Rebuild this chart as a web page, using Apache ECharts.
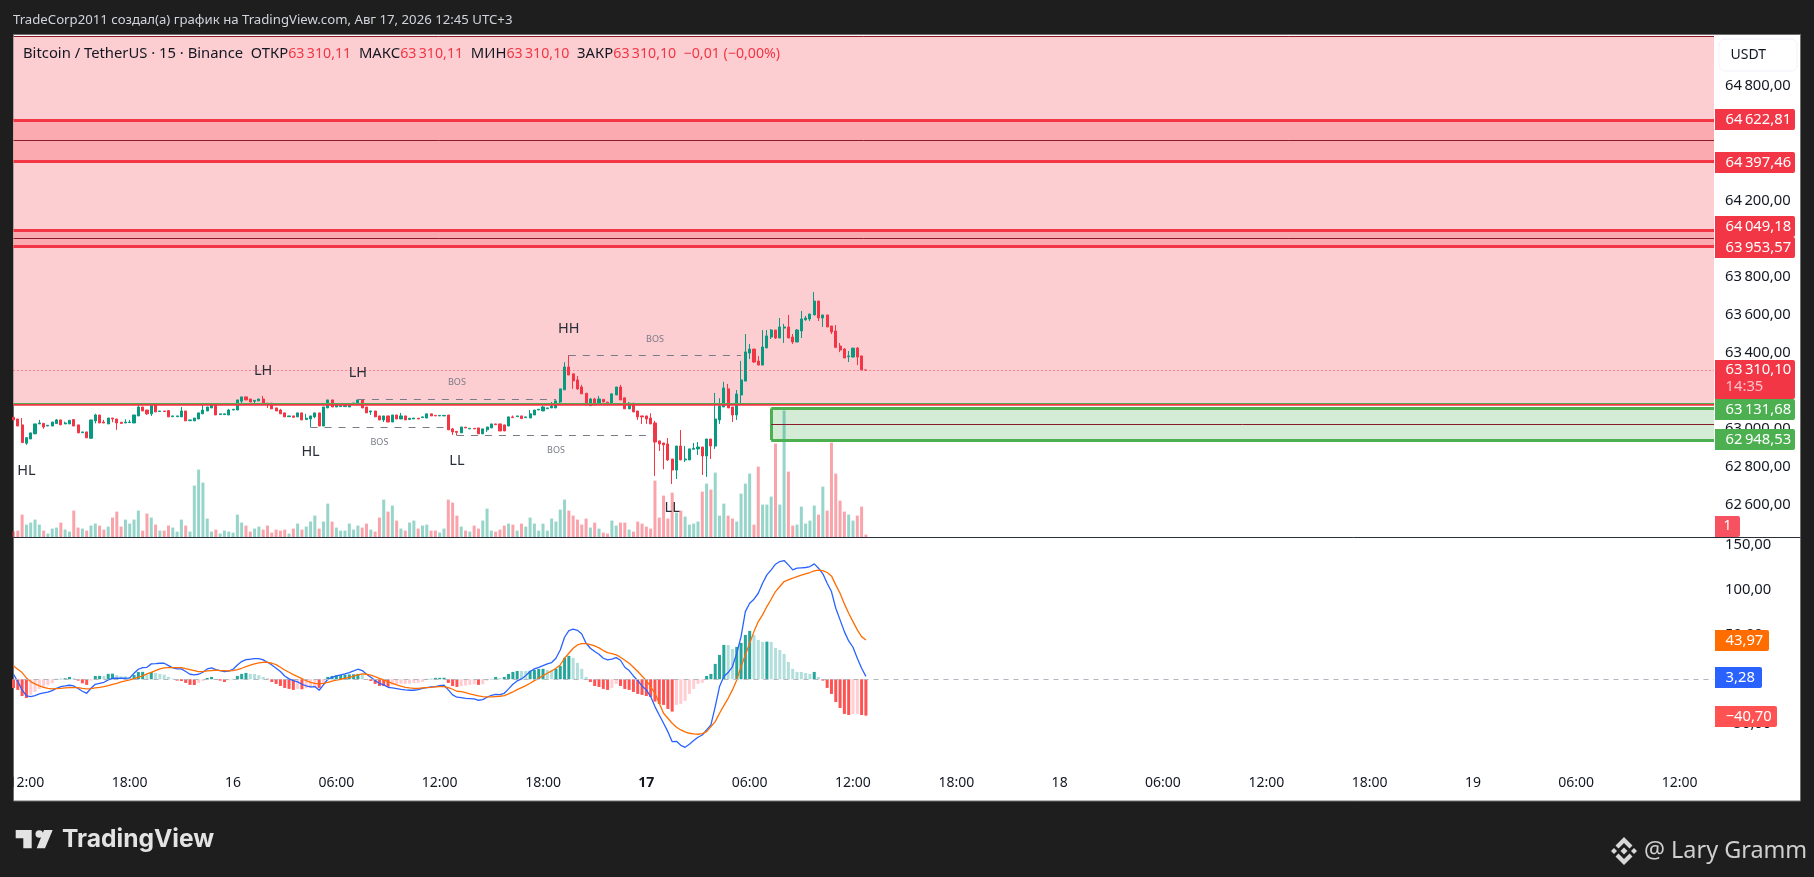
<!DOCTYPE html>
<html><head><meta charset="utf-8">
<script src="https://cdn.jsdelivr.net/npm/echarts@6/dist/echarts.min.js"></script>
<style>html,body{margin:0;padding:0;background:#1e1e1e}#c{width:1814px;height:877px}</style>
</head><body><div id="c"></div>
<script>
const opens=[
63062,63053,63022,62926,62948,62975,63027,63030,63016,63016,
63029,63048,63027,63027,63050,63022,62981,62985,62952,63043,
63074,63037,63027,63058,63053,63036,63032,63034,63032,63069,
63116,63100,63080,63127,63092,63095,63097,63065,63065,63064,
63095,63044,63043,63053,63080,63095,63111,63127,63076,63076,
63074,63100,63100,63146,63169,63158,63146,63148,63158,63136,
63136,63111,63100,63085,63065,63069,63064,63085,63050,63053,
63064,63085,63016,63111,63153,63116,63118,63118,63116,63132,
63132,63153,63116,63090,63095,63069,63048,63069,63037,63074,
63053,63069,63050,63053,63057,63060,63058,63080,63072,63069,
63069,63074,63001,62988,62980,63010,63001,63004,63006,62975,
62996,63006,63027,63027,63022,63016,63064,63065,63069,63060,
63058,63074,63100,63095,63107,63111,63111,63142,63206,63326,
63290,63258,63221,63188,63123,63158,63136,63156,63142,63137,
63179,63221,63164,63106,63136,63095,63069,63069,63058,63032,
62938,62927,62922,62843,62785,62911,62838,62838,62894,62896,
62906,62859,62948,62911,63048,63116,63211,63116,63074,63179,
63252,63399,63420,63357,63336,63426,63483,63520,63478,63530,
63536,63483,63457,63515,63574,63578,63599,63672,63583,63599,
63541,63515,63436,63420,63380,63378,63425,63384,63310.11];
const closes=[
63048,63016,62929,62955,62980,63027,63032,63011,63020,63037,
63048,63022,63032,63046,63016,62980,62985,62954,63048,63074,
63032,63032,63058,63053,63032,63030,63037,63037,63074,63116,
63095,63080,63123,63090,63095,63092,63064,63069,63069,63095,
63043,63048,63058,63085,63100,63116,63127,63074,63080,63080,
63100,63104,63153,63169,63153,63142,63151,63158,63136,63132,
63106,63095,63080,63064,63069,63062,63085,63048,63057,63069,
63085,63016,63116,63153,63116,63127,63123,63123,63132,63137,
63153,63111,63085,63095,63064,63048,63069,63037,63074,63053,
63069,63048,63057,63058,63053,63064,63080,63069,63069,63072,
63072,62996,62985,62983,63011,63006,63004,63001,62975,63001,
63011,63027,63023,62990,62990,63064,63060,63069,63055,63064,
63080,63100,63104,63116,63111,63121,63148,63211,63326,63284,
63253,63211,63185,63127,63158,63127,63158,63142,63139,63185,
63221,63153,63106,63136,63090,63064,63064,63053,63027,62932,
62922,62917,62838,62785,62911,62838,62843,62896,62899,62906,
62859,62948,62911,63053,63121,63216,63111,63074,63184,63258,
63405,63420,63352,63336,63431,63489,63520,63478,63536,63536,
63478,63457,63520,63578,63583,63604,63672,63583,63599,63536,
63510,63429,63415,63373,63384,63425,63378,63311,63310.10];
const lows=[
63048,63016,62929,62917,62948,62975,63027,63002,63016,63016,
63029,63022,63027,63027,63016,62980,62981,62954,62948,63030,
63032,63032,63027,63036,62996,63027,63032,63034,63032,63069,
63095,63074,63069,63090,63092,63092,63064,63065,63065,63064,
63043,63044,63043,63053,63080,63095,63111,63074,63076,63076,
63074,63100,63100,63136,63153,63142,63136,63148,63136,63111,
63106,63095,63080,63064,63065,63062,63064,63048,63050,63009,
63057,63016,63016,63111,63116,63116,63118,63118,63116,63132,
63132,63111,63085,63074,63064,63048,63037,63037,63037,63053,
63053,63048,63050,63053,63053,63060,63058,63069,63069,63069,
63069,62996,62969,62966,62980,63006,63001,63001,62975,62975,
62985,63006,63023,62990,62990,63016,63060,63065,63055,63060,
63058,63074,63100,63095,63107,63111,63111,63136,63206,63284,
63211,63206,63185,63127,63123,63127,63136,63142,63139,63137,
63179,63153,63106,63106,63090,63048,63027,63027,63027,62754,
62885,62789,62833,62712,62738,62838,62827,62838,62894,62864,
62759,62749,62843,62896,63027,63116,63111,63037,63048,63136,
63252,63368,63347,63336,63336,63426,63473,63473,63478,63452,
63478,63447,63457,63478,63569,63567,63599,63567,63536,63536,
63499,63425,63404,63373,63352,63378,63336,63311,63310.10];
const highs=[
63062,63053,63058,62955,62980,63027,63048,63030,63020,63037,
63053,63048,63039,63046,63051,63022,62985,62985,63048,63080,
63074,63048,63058,63058,63053,63036,63051,63048,63074,63125,
63116,63100,63123,63127,63095,63095,63097,63069,63069,63116,
63095,63048,63058,63085,63127,63116,63127,63127,63080,63080,
63106,63104,63153,63169,63169,63158,63151,63158,63174,63136,
63136,63111,63106,63085,63069,63069,63085,63085,63080,63069,
63085,63085,63116,63153,63153,63127,63123,63123,63132,63137,
63153,63153,63116,63095,63095,63069,63069,63069,63074,63074,
63085,63069,63057,63058,63057,63064,63080,63080,63072,63072,
63072,63074,63006,62988,63011,63010,63004,63004,63006,63001,
63011,63027,63027,63027,63022,63064,63071,63069,63069,63064,
63100,63100,63104,63121,63111,63142,63148,63211,63351,63388,
63290,63279,63232,63188,63164,63164,63174,63156,63142,63185,
63221,63232,63164,63142,63136,63095,63069,63069,63083,63043,
62938,62927,62953,62843,62911,62995,62911,62896,62927,62932,
62906,62948,62948,63190,63162,63248,63237,63116,63205,63358,
63499,63447,63420,63384,63520,63520,63525,63520,63583,63552,
63599,63499,63525,63620,63594,63604,63720,63672,63599,63599,
63541,63546,63452,63425,63410,63425,63431,63384,63310.11];
const volumes=[
2.8,3.2,11.2,6.2,7.2,8.7,6.2,3.2,1.7,4.2,
4.7,7.2,3.7,2.7,13.2,4.7,4.2,3.2,5.7,6.7,
5.7,3.7,5.2,9.7,12.7,5.2,8.7,6.7,8.7,13.2,
3.2,11.7,9.7,6.2,3.2,3.2,5.7,4.7,2.7,8.7,
5.7,2.7,25.7,33.7,27.2,9.2,2.7,3.7,1.7,3.2,
2.7,2.2,11.2,7.2,5.7,2.7,4.2,5.2,3.7,5.7,
2.2,3.7,3.2,3.7,1.7,4.2,6.7,3.7,5.2,7.7,
10.7,4.2,7.7,16.7,7.7,4.7,3.2,3.2,6.7,3.7,
5.7,4.7,6.7,3.7,2.7,9.7,18.7,12.7,15.7,8.2,
4.2,3.2,7.2,8.2,4.2,5.7,6.2,3.2,3.2,2.2,
4.2,18.7,17.2,10.7,5.2,3.2,2.7,5.7,4.2,8.2,
14.2,3.2,2.7,3.7,5.7,6.7,6.2,3.2,6.7,5.2,
9.7,6.7,3.2,6.7,3.2,9.2,7.7,13.7,18.7,13.2,
10.7,8.7,6.2,9.2,4.7,7.2,4.2,2.2,1.7,8.2,
5.7,7.2,7.2,3.7,2.7,7.7,6.7,5.2,4.2,28.2,
9.7,20.7,9.2,22.2,12.2,13.2,10.2,6.2,6.7,7.7,
22.7,26.7,23.7,32.2,10.7,16.7,10.7,9.2,7.7,21.7,
26.7,31.7,6.2,35.2,16.2,16.2,20.2,46.7,16.2,63.3,
32.7,5.7,6.2,15.2,6.7,8.2,15.7,11.2,25.2,13.2,
47.2,31.7,18.2,12.7,11.2,8.2,10.7,15.2,1.2];
const macdLine=[
5.6,-2.6,-11.9,-18.7,-19.4,-18.3,-16.4,-15.3,-14.5,-12.7,
-10.1,-8.2,-7.5,-6.7,-7.5,-10.4,-13.4,-15.7,-10.1,-5.6,
-4.5,-3.4,-0.7,1.1,1.1,1.1,1.1,1.5,6.7,11.2,
13.1,13.4,17.2,17.5,17.9,17.9,15.3,12.7,11.6,11.6,
8.6,5.6,4.8,5.6,7.8,11.6,12.7,10.8,9.7,8.6,
9,11.2,16,19.8,22,22.4,23.1,23.1,21.6,19,
16,12.3,8.6,3.7,0.4,-1.5,-3,-5.6,-7.5,-8.6,
-8.2,-12.3,-6.3,0,2.2,3.7,4.8,6,7.5,9.3,
11.2,9.7,5.6,2.2,-1.5,-4.5,-6.3,-9,-9.7,-10.4,
-11.2,-11.9,-12.3,-12.3,-11.6,-10.1,-9.3,-8.6,-8.2,-7.1,
-6.7,-11.9,-17.5,-20.1,-20.5,-21.3,-21.6,-22,-23.5,-22.8,
-20.1,-17.9,-16.8,-17.2,-15.7,-10.8,-5.6,-1.9,0.4,4.1,
8.6,11.6,13.4,15.3,17.2,18.7,23.5,32.8,47,54.5,
56,54.8,50.7,40.3,34.7,31,28,23.5,21.6,22.4,
24.2,21.3,13.4,9.7,3.7,-1.5,-7.5,-11.9,-19.4,-30.6,
-39.9,-49.2,-58.6,-69.8,-69.4,-73.9,-76.1,-72.7,-68.6,-64.9,
-62.3,-56.7,-51.1,-30.6,-8.2,3,7.5,14.2,29.1,47.7,
75.7,85,89.5,96.2,107.4,116.7,122.3,128.7,131.7,132.8,
127.9,122.3,124.2,124.6,125,126.1,129.1,124.2,117.9,107.4,
98.1,79.4,66.4,53.3,42.9,35.8,23.5,12.3,3.28];
const signalLine=[
14.9,11.2,7.5,1.5,-2.6,-5.2,-7.5,-9,-10.1,-10.8,
-10.4,-10.1,-9.7,-9.3,-9.3,-9.3,-10.1,-10.8,-10.4,-9.7,
-9,-8.2,-7.1,-5.6,-4.5,-3,-1.9,-0.7,0.7,2.2,
3.7,6,7.8,9.7,11.6,12.7,13.1,13.1,13.1,13.1,
11.9,10.8,9.7,8.6,8.6,9.3,9.7,10.1,9.7,9.7,
9.3,9.7,10.8,12.3,14.2,15.7,17.2,18.3,19,19,
17.9,16.4,13.4,10.4,7.8,5.2,3,0.7,-1.5,-3.4,
-4.5,-5.2,-4.5,-3.4,-2.2,-1.1,0,1.1,2.2,3.4,
4.8,6,5.6,4.5,3,1.1,-0.7,-2.6,-4.5,-6.3,
-7.8,-9,-9.7,-10.1,-10.1,-9.7,-9.3,-9,-8.6,-8.2,
-8.2,-9.3,-11.2,-13.4,-13.8,-14.9,-16.4,-17.5,-18.7,-19.4,
-19.8,-19.8,-19.4,-19,-18.3,-16.4,-14.2,-11.6,-9.3,-7.1,
-4.5,-1.5,1.1,4.1,6.7,9.3,12.3,16,23.5,29.1,
34.7,38.4,39.9,39.9,38.8,37.3,35.1,32.1,29.8,28.7,
27.2,24.6,21.3,17.9,13.4,8.6,3.7,-1.5,-8.2,-15.7,
-26.9,-38,-43.6,-49.2,-53.7,-56.7,-58.9,-60.4,-61.2,-61.5,
-60.8,-58.6,-53,-47.4,-38,-29.5,-21.3,-11.9,-0.7,14.2,
27.2,40.3,53.3,64.5,72,81.3,89.5,98.1,103.7,109.3,
111.2,113,114.9,116.4,117.9,119.4,121.2,122,121.6,119.4,
115.6,105.6,96.2,84.3,73.9,64.5,55.2,47.7,43.97];
const histogram=[
-9.7,-11.9,-18.7,-20.9,-17.5,-14.2,-10.8,-9,-6.7,-4.5,
0.4,0.5,1.1,2.6,1.1,-1.5,-4.5,-6.3,-1.5,3.7,
3.8,3.7,6,6.3,4.5,3.4,3.3,2.6,4.8,8.2,
8.3,5.6,8.2,7.1,6,5.2,2.6,0.7,-1.5,-1.9,
-4.1,-6.3,-6.4,-4.1,-1.9,1.5,2.6,0.4,-1.5,-3,
-1.1,0.4,3.7,6,7.1,6,5.9,4.5,2.6,1.1,
-3,-5.2,-7.5,-9.7,-10.8,-11.9,-10.8,-11.2,-10.1,-9.7,
-9,-9.7,-4.1,2.6,3.7,4.5,4.8,5.2,5.4,5.6,
6,4.8,0.4,-1.9,-5.2,-7.5,-7.6,-8.6,-6.3,-5.2,
-5.1,-5.1,-5,-4.1,-4,-3,0.4,0.5,1.5,1.6,
1.7,-4.1,-7.5,-8.6,-7.5,-7.1,-6.3,-5.6,-6.3,-5.6,
-1.5,0.4,2.6,1.5,2.6,6,8.2,9.3,9.3,9.3,
9.5,10.4,11.6,11.7,10.4,9.7,11.6,14.9,23.9,26.1,
23.9,18.3,11.6,2.6,-3,-7.5,-8.6,-10.8,-11.9,-9.7,
-5.2,-7.5,-10.8,-11.9,-14.2,-16.4,-17.5,-18.7,-19.8,-25,
-27.6,-28.7,-33.2,-36.2,-28.7,-27.6,-24.2,-16.4,-10.8,-5.2,
-4.1,3.7,6,17.2,27.2,38.4,38.3,33.9,36.2,40.7,
49.6,54.1,49.6,44,41.8,42.1,41.8,35.1,32.8,28.3,
19.4,11.6,8.2,8.1,7.1,6,8.2,2.6,-1.5,-9.7,
-16.4,-25.4,-32.1,-38.8,-40,-38.8,-38.7,-40,-40.7];
const tickIndex=[3,27,51,75,99,123,147,171,195,219,243,267,291,315,339,363,387];
const tickText=['12:00','18:00','16','06:00','12:00','18:00','17','06:00','12:00','18:00','18','06:00','12:00','18:00','19','06:00','12:00'];
const shownPriceTicks=[62600,62800,63000,63400,63600,63800,64200,64800];
const macdTicks=[-50,0,50,100,150];
const markText=['HL','LH','LH','HL','LL','HH','LL'];
const markX=[3,58,80,69,103,129,153];
const markY=[62782,63306,63296,62881,62834,63527,62587];
const bosX=[85,103,126,149];
const bosY=[62932,63243,62890,63473];
const dashStart=[69,80,103,129];
const dashEnd=[101,126,149,169];
const dashY=[63009,63156,62967,63387];
const bigZone=[65063.6,63131.6];
const zoneTops=[64621,64042];
const zoneBottoms=[64406,63961];
const zoneMids=[64516,64001.5];
const greenBox=[63108,62942];
const greenMid=63024;
const greenLeft=176;
const lastPrice=63310.1;

const UP='#089981',DOWN='#f23645',N=396;
const cats=Array.from({length:N},(_,i)=>String(i));
const tickMap=new Map(tickIndex.map((t,i)=>[t,tickText[i]]));
const fmt=(v)=>{const a=Math.abs(v);const s=a.toFixed(2).replace('.',',');const [i,d]=s.split(',');
 const g=i.length>3?i.slice(0,i.length-3)+'\u2009'+i.slice(-3):i;return (v<0?'\u2212':'')+g+','+d;};
const FONT='"Noto Sans",sans-serif';
const candleData=opens.map((o,i)=>[o,closes[i],lows[i],highs[i]]);
const volData=volumes.map((v,i)=>({value:v,itemStyle:{color:closes[i]<opens[i]?'rgba(242,54,69,0.45)':'rgba(8,153,129,0.42)'}}));
const histData=histogram.map((v,i)=>{const p=i?histogram[i-1]:v-1*Math.sign(v||1)*1;let c;
 if(v>=0)c=v>p?'#26a69a':'#b2dfdb';else c=v<p||i===0?'#ff5252':'#ffcdd2';
 return {value:v,itemStyle:{color:c}};});
const hline=(y,color,width,type)=>({yAxis:y,lineStyle:{color,width,type:type||'solid'}});
const seg=(x1,y1,x2,y2,color,width)=>[{coord:[x1,y1],lineStyle:{color,width,type:'solid'}},{coord:[x2,y2]}];

const tag=(text,x,y,w,h,color)=>[
 {type:'rect',z:50,shape:{x,y,width:w,height:h,r:[0,2,2,0]},style:{fill:color},silent:true},
 {type:'text',z:51,x:1725.5,y:y+h/2,silent:true,style:{text,fill:'#fff',font:'14.8px '+FONT,verticalAlign:'middle'}}
];
const legendRich={n:{fill:'#131722',font:'14.8px '+FONT},r:{fill:'#f23645',font:'14.2px '+FONT}};
const C=(cx,cy,pts)=>pts.map(p=>[cx+p[0],cy+p[1]]);
const bx=1624,by=851;
const gfx=[
 {type:'rect',z:-10,shape:{x:13.5,y:34.5,width:1787,height:766.5},style:{fill:'#fff',stroke:'#6f6f6f',lineWidth:1},silent:true},
 {type:'rect',z:100,shape:{x:0,y:770,width:13,height:30},style:{fill:'#1e1e1e'},silent:true},
 {type:'line',z:60,shape:{x1:13.5,y1:537.5,x2:1800.5,y2:537.5},style:{stroke:'#2a2e39',lineWidth:1},silent:true},
 {type:'text',z:60,x:13,y:20,silent:true,style:{text:'TradeCorp2011 создал(а) график на TradingView.com, Авг 17, 2026 12:45 UTC+3',fill:'#d1d4dc',font:'13.2px '+FONT,verticalAlign:'middle'}},
 {type:'text',z:60,x:23,y:54,silent:true,style:{text:'{n|Bitcoin / TetherUS · 15 · Binance  ОТКР}{r|63\u2009310,11}{n|  МАКС}{r|63\u2009310,11}{n|  МИН}{r|63\u2009310,10}{n|  ЗАКР}{r|63\u2009310,10}{r|  \u22120,01 (\u22120,00%)}',rich:legendRich,font:'14px '+FONT,verticalAlign:'middle'}},
 {type:'rect',z:50,shape:{x:1719,y:39,width:78,height:32,r:6},style:{fill:'#fff',stroke:'#f0f3fa',lineWidth:1},silent:true},
 {type:'text',z:51,x:1730.5,y:55,silent:true,style:{text:'USDT',fill:'#131722',font:'14px '+FONT,verticalAlign:'middle'}},
 ...tag('64\u2009622,81',1715,109,80,21,'#f23645'),
 ...tag('64\u2009397,46',1715,152,80,21,'#f23645'),
 ...tag('64\u2009049,18',1715,216,80,21,'#f23645'),
 ...tag('63\u2009953,57',1715,237,80,21,'#f23645'),
 {type:'rect',z:50,shape:{x:1715,y:360,width:80,height:39,r:[0,2,2,0]},style:{fill:'#f23645'},silent:true},
 {type:'text',z:51,x:1725.5,y:370,silent:true,style:{text:'63\u2009310,10',fill:'#fff',font:'14.8px '+FONT,verticalAlign:'middle'}},
 {type:'text',z:51,x:1725.5,y:387,silent:true,style:{text:'14:35',fill:'#fbc2c7',font:'14.8px '+FONT,verticalAlign:'middle'}},
 ...tag('63\u2009131,68',1715,399,80,21,'#4caf50'),
 ...tag('62\u2009948,53',1715,429,80,21,'#4caf50'),
 {type:'rect',z:50,shape:{x:1715,y:516,width:25,height:21,r:[0,2,2,0]},style:{fill:'#f7525f'},silent:true},
 {type:'text',z:51,x:1727.5,y:526.5,silent:true,style:{text:'1',fill:'#fff',font:'14px '+FONT,align:'center',verticalAlign:'middle'}},
 ...tag('43,97',1715,630,54,21,'#ff6d00'),
 ...tag('3,28',1715,667,47,21,'#2962ff'),
 ...tag('\u221240,70',1715,706,62,21,'#ff5252'),
 {type:'polygon',z:60,shape:{points:[[15.7,830],[31.7,830],[31.7,848.3],[23.3,848.3],[23.3,838.3],[15.7,838.3]]},style:{fill:'#e3e3e3'},silent:true},
 {type:'circle',z:60,shape:{cx:39.3,cy:834,r:3.8},style:{fill:'#e3e3e3'},silent:true},
 {type:'polygon',z:60,shape:{points:[[44,830],[52.7,830],[45,848.3],[36.7,848.3]]},style:{fill:'#e3e3e3'},silent:true},
 {type:'text',z:60,x:62,y:840,silent:true,style:{text:'TradingView',fill:'#e3e3e3',font:'bold 24.6px Inter,'+FONT,verticalAlign:'middle'}},
 ...[[[0,-3.5],[3.5,0],[0,3.5],[-3.5,0]],
     [[-10,-3],[-7,0],[-10,3],[-13,0]],
     [[10,-3],[13,0],[10,3],[7,0]],
     [[0,-14],[8.5,-5.5],[5.5,-2.5],[0,-8],[-5.5,-2.5],[-8.5,-5.5]],
     [[0,14],[8.5,5.5],[5.5,2.5],[0,8],[-5.5,2.5],[-8.5,5.5]]
    ].map(p=>({type:'polygon',z:60,shape:{points:C(bx,by,p)},style:{fill:'#d8d8d8'},silent:true})),
 {type:'text',z:60,x:1644,y:851,silent:true,style:{text:'@ Lary Gramm',fill:'#cfcfcf',font:'23.4px '+FONT,verticalAlign:'middle'}}
];

const chart=echarts.init(document.getElementById('c'),null,{renderer:'canvas'});
chart.setOption({
 animation:false,backgroundColor:'#1e1e1e',
 grid:[{left:13.5,top:35,width:1700.5,height:502},{left:13.5,top:538,width:1700.5,height:232}],
 graphic:{elements:gfx},
 xAxis:[
  {type:'category',gridIndex:0,data:cats,boundaryGap:false,axisLine:{show:false},axisTick:{show:false},axisLabel:{show:false},splitLine:{show:false}},
  {type:'category',gridIndex:1,data:cats,boundaryGap:false,axisLine:{show:false},axisTick:{show:false},splitLine:{show:false},
   axisLabel:{color:'#131722',fontFamily:'"Noto Sans"',fontSize:14,margin:6,hideOverlap:false,interval:(i)=>tickMap.has(i),
    formatter:(v)=>{const t=tickMap.get(+v);return t==='17'?'{b|17}':t;},rich:{b:{fontWeight:'bold',fontSize:14,fontFamily:'"Noto Sans"',color:'#131722'}}}}
 ],
 yAxis:[
  {type:'value',gridIndex:0,position:'right',min:62433.5,max:65068.6,splitLine:{show:false},axisLine:{show:false},axisTick:{show:false},
   axisLabel:{customValues:shownPriceTicks,formatter:fmt,color:'#131722',fontFamily:'"Noto Sans"',fontSize:14.8,margin:11,align:'left',padding:[0,0,4,0]}},
  {type:'value',gridIndex:0,min:0,max:251,show:false,splitLine:{show:false}},
  {type:'value',gridIndex:1,position:'right',min:-101.5,max:158,splitLine:{show:false},axisLine:{show:false},axisTick:{show:false},
   axisLabel:{customValues:macdTicks,formatter:fmt,color:'#131722',fontFamily:'"Noto Sans"',fontSize:14.8,margin:11,align:'left'}}
 ],
 series:[
  {type:'line',name:'zones',xAxisIndex:0,yAxisIndex:0,data:[],z:1,symbol:'none',silent:true,
   markArea:{silent:true,itemStyle:{color:'#fccdd1'},data:[[{yAxis:bigZone[0]},{yAxis:bigZone[1]}]]}},
  {type:'line',name:'inner',xAxisIndex:0,yAxisIndex:0,data:[],z:1.5,symbol:'none',silent:true,
   markArea:{silent:true,itemStyle:{color:'#fbaab0'},data:zoneTops.map((t,i)=>[{yAxis:t},{yAxis:zoneBottoms[i]}])}},
  {type:'bar',name:'volume',xAxisIndex:0,yAxisIndex:1,data:volData,barWidth:3,z:2,silent:true},
  {type:'candlestick',name:'price',xAxisIndex:0,yAxisIndex:0,data:candleData,barWidth:2.6,z:4,silent:true,
   itemStyle:{color:UP,color0:DOWN,borderColor:UP,borderColor0:DOWN,borderWidth:1},
   markPoint:{silent:true,symbol:'circle',symbolSize:1,itemStyle:{color:'rgba(0,0,0,0)'},
    data:[...markText.map((t,i)=>({coord:[markX[i],markY[i]],label:{show:true,position:'inside',formatter:t,color:'#2a2e39',fontSize:14.5,fontFamily:'"Noto Sans"'}})),
          ...bosX.map((x,i)=>({coord:[x,bosY[i]],label:{show:true,position:'inside',formatter:'BOS',color:'#787b86',fontSize:9,fontFamily:'"Noto Sans"'}}))]},
   markLine:{silent:true,symbol:'none',label:{show:false},
    data:dashY.map((y,i)=>[{coord:[dashStart[i],y],lineStyle:{color:'#787b86',width:1,type:[7,7]}},{coord:[dashEnd[i],y]}])}},
  {type:'line',name:'levels',xAxisIndex:0,yAxisIndex:0,data:[],z:3,symbol:'none',silent:true,
   markLine:{silent:true,symbol:'none',label:{show:false},data:[
    hline(bigZone[0],'#8b1a2b',1),
    ...zoneTops.map(v=>hline(v,'#f23645',3)),
    ...zoneBottoms.map(v=>hline(v,'#f23645',3)),
    ...zoneMids.map(v=>hline(v,'#8b1a2b',1)),
    hline(63127.9,'#f23645',2.5),
    hline(63134.2,'#4caf50',1.2),
    hline(lastPrice,'#f23645',1,[1,3])
   ]}},
  {type:'line',name:'greenZone',xAxisIndex:0,yAxisIndex:0,data:[],z:5,symbol:'none',silent:true,
   markArea:{silent:true,itemStyle:{color:'rgba(76,175,80,0.24)'},data:[[{coord:[greenLeft,greenBox[0]]},{coord:[N-1,greenBox[1]]}]]},
   markLine:{silent:true,symbol:'none',label:{show:false},data:[
    seg(greenLeft,greenBox[0],N-1,greenBox[0],'#4caf50',3),
    seg(greenLeft,greenBox[1],N-1,greenBox[1],'#4caf50',3),
    seg(greenLeft,greenBox[0],greenLeft,greenBox[1],'#4caf50',3),
    seg(greenLeft,greenMid,N-1,greenMid,'#8b1a2b',1)
   ]}},
  {type:'bar',name:'hist',xAxisIndex:1,yAxisIndex:2,data:histData,barWidth:3,z:2,silent:true,
   markLine:{silent:true,symbol:'none',label:{show:false},data:[hline(0,'#b2b5be',1,[5,5])]}},
  {type:'line',name:'macd',xAxisIndex:1,yAxisIndex:2,data:macdLine,z:3,symbol:'none',silent:true,lineStyle:{color:'#2962ff',width:1.3}},
  {type:'line',name:'signal',xAxisIndex:1,yAxisIndex:2,data:signalLine,z:4,symbol:'none',silent:true,lineStyle:{color:'#ff6d00',width:1.3}}
 ]
});
</script></body></html>
